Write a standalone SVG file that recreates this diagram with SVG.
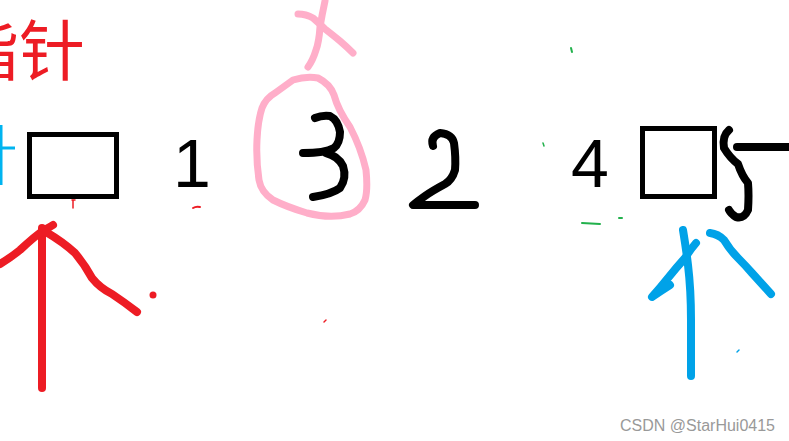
<svg xmlns="http://www.w3.org/2000/svg" width="789" height="441" viewBox="0 0 789 441">
<style>
.ink{fill:none;stroke-linecap:round;stroke-linejoin:round}
.blk{stroke:#000;stroke-width:8}
.red{stroke:#ed1c24;stroke-width:8}
.pink{stroke:#ffaec9;stroke-width:7}
.blue{stroke:#00a2e8;stroke-width:8}
.box{fill:none;stroke:#000;stroke-width:5}
.num{font-family:"Liberation Sans",Arial,sans-serif;font-size:68px;fill:#000}
</style>
<rect width="789" height="441" fill="#fff"/>
<g id="title"><text x="-47" y="75" font-family="'Noto Sans CJK SC',sans-serif" font-size="66" fill="#ed1c24">指针</text></g>
<g id="plus"><path d="M1 125V185M0 148H15" stroke="#00b4f0" stroke-width="3" fill="none"/></g>
<g id="box-left"><rect x="29.5" y="134.5" width="87" height="62" class="box"/></g>
<g id="n1"><text x="173" y="187" class="num">1</text></g>
<g id="n3">
<path class="ink pink" d="M293 80 Q306 76 318 78 Q330 84 334 95 Q338 110 350 127 Q361 148 366 170 Q368 190 365 200 Q360 211 350 214 Q330 219 307 213 Q287 207 273 200 Q261 192 259 180 Q256 160 257 140 Q258 120 262 108 Q266 98 275 93 Z"/>
<path class="ink pink" d="M325 1 Q322 15 320 27 Q319 42 316 50 Q313 60 308 67"/>
<path class="ink pink" d="M298 14 Q306 14 313 18 Q320 24 325 29 Q334 36 340 41 Q347 47 353 53"/>
<path class="ink blk" d="M315 118 Q322 115 330 116 Q338 120 340 132 Q340 143 334 148 Q325 153 303 153 M326 153 Q338 156 343 166 Q347 178 340 188 Q332 194 313 197"/>
</g>
<g id="n2"><path class="ink blk" d="M433 146 Q430 137 440 133 Q452 134 454 143 Q456 158 455 170 Q452 180 445 184 Q432 191 425 196 Q418 201 413 205 L475 205"/></g>
<g id="n4"><text x="571" y="187" class="num">4</text></g>
<g id="box-right"><rect x="642.5" y="128.5" width="72" height="68" class="box"/></g>
<g id="n5">
<path class="ink blk" d="M729 130 Q722 136 724 148 Q730 158 738 164 Q742 176 748 183 Q749 195 748 210 Q744 219 736 217 Q731 214 729 210"/>
<path class="ink blk" d="M737 147 L789 147" stroke-linecap="butt"/>
</g>
<g id="connectors">
<g id="arrow-red">
<path class="ink red" d="M42 388 L42 228"/>
<path class="ink red" d="M0 264 Q10 258 20 250 Q35 236 44 230 Q50 227 53 225"/>
<path class="ink red" d="M46 232 Q63 242 75 253 Q85 265 92 278 Q100 288 112 294 Q124 302 137 312"/>
<circle cx="153" cy="295" r="3.5" fill="#ed1c24"/>
</g>
<g id="arrow-blue">
<path class="ink blue" d="M683 230 Q686 248 688 265 Q691 290 691 320 L691 376"/>
<path class="ink blue" d="M696 243 Q690 250 685 258 Q676 268 668 278 Q660 288 652 297 Q662 290 670 285"/>
<path class="ink blue" d="M710 233 Q718 234 724 240 Q730 250 738 258 Q745 265 752 273 Q762 284 771 294"/>
</g>
</g>
<g id="specks" fill="none" stroke-linecap="round">
<path d="M72 200 L75 200 M73 200 V208" stroke="#ed1c24" stroke-width="1.5"/>
<path d="M193 208 Q196 206 200 207" stroke="#ed1c24" stroke-width="2"/>
<path d="M582 223 L600 224" stroke="#22b14c" stroke-width="2"/>
<path d="M619 218 L622 218" stroke="#22b14c" stroke-width="2"/>
<path d="M571 48 L572 52" stroke="#22b14c" stroke-width="2"/>
<path d="M543 143 L544 146" stroke="#22b14c" stroke-width="1.5"/>
<path d="M737 352 L739 350" stroke="#00a2e8" stroke-width="1.5"/>
<path d="M324 322 L326 320" stroke="#ed1c24" stroke-width="1.5"/>
</g>
<g id="watermark"><text x="775" y="431" text-anchor="end" font-family="'Liberation Sans',Arial,sans-serif" font-size="16" fill="#999">CSDN @StarHui0415</text></g>
</svg>
